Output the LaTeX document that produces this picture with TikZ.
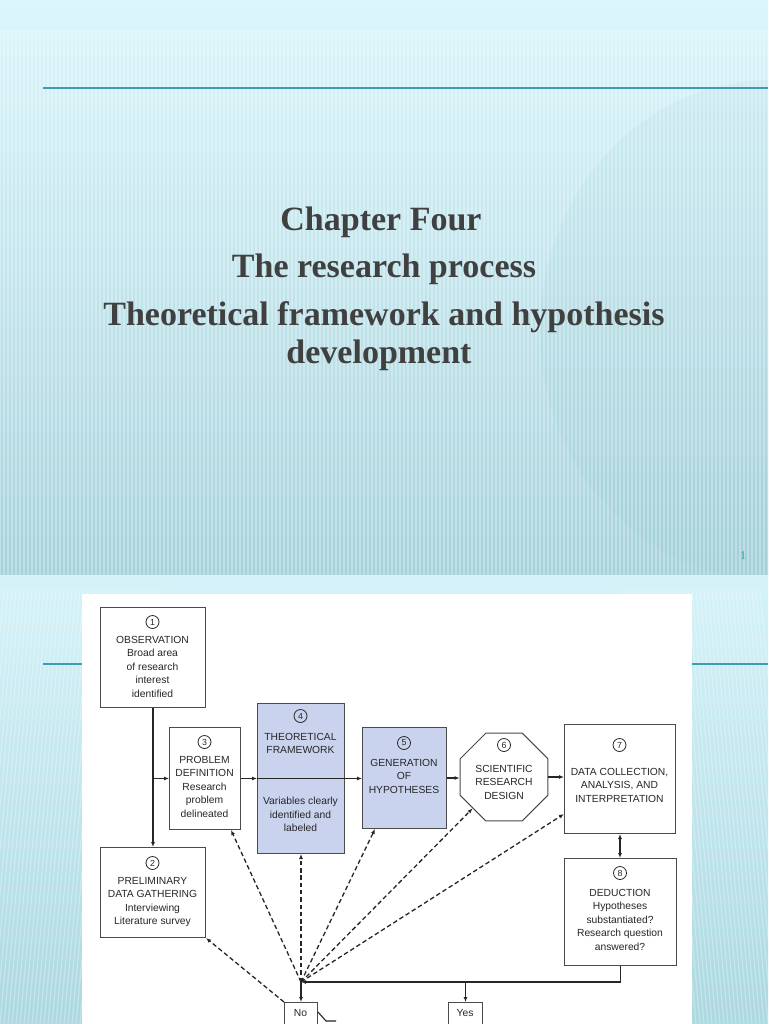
\documentclass[tikz,border=0pt]{standalone}
\usepackage{fontspec}
\setmainfont{Liberation Serif}
\newfontfamily\figfont{Liberation Sans}
\usetikzlibrary{arrows.meta,shapes.geometric,calc}
\definecolor{bgtop}{HTML}{DCF6FC}
\definecolor{bgmid}{HTML}{C6EAF1}
\definecolor{bgbot}{HTML}{A6D2DB}
\definecolor{bgshadow}{HTML}{7FB6C3}
\definecolor{stop}{HTML}{D5F3F9}
\definecolor{sbot}{HTML}{ACD8E1}
\definecolor{rulec}{HTML}{3D9CB4}
\definecolor{titlegray}{HTML}{404040}
\definecolor{boxblue}{HTML}{CAD3EE}
\definecolor{ink}{HTML}{262626}
\definecolor{edge}{HTML}{4A4A4A}
\tikzset{
  boxed/.style={draw=edge, line width=1pt, fill=white, inner sep=0, anchor=north west},
  bluebox/.style={boxed, fill=boxblue},
  ftext/.style={font=\figfont\fontsize{10.3}{13.5}\selectfont, text=ink, align=center, inner sep=0, anchor=north},
  cnum/.style={circle, draw=ink, line width=0.8pt, minimum size=13pt, inner sep=0, font=\figfont\fontsize{8.8}{9}\selectfont, text=ink},
  conn/.style={draw=ink, line width=1.2pt, -{Latex[length=5pt,width=4pt]}},
  dconn/.style={conn, dash pattern=on 4.5pt off 2.8pt, line width=1.3pt},
  titletext/.style={font=\bfseries\fontsize{34}{40}\selectfont, text=titlegray, anchor=base, inner sep=0},
  stripe/.style={white, opacity=0.3, line width=1.2pt}
}
\begin{document}
\begin{tikzpicture}[x=1pt,y=-1pt]
\useasboundingbox (0,0) rectangle (768,1024);
\clip (0,0) rectangle (768,1024);
% ---------- slide 1 background ----------
\shade[top color=bgtop, middle color=bgmid, bottom color=bgbot] (0,0) rectangle (768,575);
\begin{scope}
\clip (0,0) rectangle (768,575);
\fill[bgshadow, opacity=0.09] (770,330) ellipse [x radius=230, y radius=250];
\foreach \x in {0,4,...,768} \draw[stripe] (\x,30) -- (\x,575);
\end{scope}
\draw[rulec, line width=1.6pt] (43,88) -- (768,88);
\node[titletext] (h1) at (381,230) {Chapter Four};
\node[titletext] (h2) at (384,277) {The research process};
\node[titletext] (h3) at (384,325) {Theoretical framework and hypothesis};
\node[titletext] (h4) at (379,363) {development};
\node[font=\fontsize{12}{13}\selectfont, text=rulec, inner sep=0] (pg) at (743,556) {1};
% ---------- slide 2 background ----------
\shade[top color=stop, bottom color=sbot] (0,575) rectangle (768,1024);
\begin{scope}
\clip (0,590) rectangle (768,1024);
\foreach \x in {-80,-76,...,120} \draw[stripe] (\x+40,590) -- (\x,1024);
\foreach \x in {660,664,...,800} \draw[stripe] (\x-40,590) -- (\x,1024);
\end{scope}
\draw[rulec, line width=1.6pt] (43,664) -- (768,664);
\fill[white] (82,594) rectangle (692,1030);
% ---------- diagram ----------
\node[boxed, minimum width=105pt, minimum height=100pt] (b1) at (100,607) {};
\node[boxed, minimum width=105pt, minimum height=90pt] (b2) at (100,847) {};
\node[boxed, minimum width=71pt, minimum height=102pt] (b3) at (169,727) {};
\node[bluebox, minimum width=87pt, minimum height=150pt] (b4) at (257,703) {};
\node[bluebox, minimum width=84pt, minimum height=101pt] (b5) at (362,727) {};
\node[regular polygon, regular polygon sides=8, minimum size=95pt, draw=edge, line width=1pt, fill=white, inner sep=0] (b6) at (504,777) {};
\node[boxed, minimum width=111pt, minimum height=109pt] (b7) at (564,724) {};
\node[boxed, minimum width=112pt, minimum height=107pt] (b8) at (564,858) {};
\node[boxed, minimum width=33pt, minimum height=30pt] (no) at (284,1002) {};
\node[boxed, minimum width=34pt, minimum height=30pt] (yes) at (448,1002) {};
% circled numbers
\node[cnum] (c1) at (152.5,622) {1};
\node[cnum] (c2) at (152.5,863) {2};
\node[cnum] (c3) at (204.5,742) {3};
\node[cnum] (c4) at (300.5,716) {4};
\node[cnum] (c5) at (404,743) {5};
\node[cnum] (c6) at (504,745) {6};
\node[cnum] (c7) at (619.5,745) {7};
\node[cnum] (c8) at (620,873) {8};
% texts
\node[ftext] (t1) at (152.5,636) {OBSERVATION\\Broad area\\of research\\interest\\identified};
\node[ftext] (t2) at (152.5,877) {PRELIMINARY\\DATA GATHERING\\Interviewing\\Literature survey};
\node[ftext] (t3) at (204.5,756) {PROBLEM\\DEFINITION\\Research\\problem\\delineated};
\node[ftext] (t4a) at (300.5,733) {THEORETICAL\\FRAMEWORK};
\node[ftext] (t4b) at (300.5,797) {Variables clearly\\identified and\\labeled};
\node[ftext] (t5) at (404,759) {GENERATION\\OF\\HYPOTHESES};
\node[ftext] (t6) at (504,765) {SCIENTIFIC\\RESEARCH\\DESIGN};
\node[ftext] (t7) at (619.5,768) {DATA COLLECTION,\\ANALYSIS, AND\\INTERPRETATION};
\node[ftext] (t8) at (620,889) {DEDUCTION\\Hypotheses\\substantiated?\\Research question\\answered?};
\node[ftext] (tno) at (300.5,1009) {No};
\node[ftext] (tyes) at (465,1009) {Yes};
% connectors
\coordinate (br) at (b1.south |- b3.west);
\coordinate (hub) at (301,982);
\draw[conn] (b1.south) -- (b2.north);
\draw[conn] (br) -- (b3.west);
\draw[conn] (b3.east) -- (b4.west);
\draw[conn] (b4.west) -- (b4.west -| b5.west);
\draw[conn] (b5.east) -- (b5.east -| b6.west);
\draw[conn] (b6.east) -- (b6.east -| b7.west);
\draw[draw=ink, line width=1.2pt, {Latex[length=5pt,width=4pt]}-{Latex[length=5pt,width=4pt]}] (b7.south) -- (b7.south |- b8.north);
\draw[conn] (b8.south) |- (hub);
\draw[conn] (hub) -- (no.north);
\draw[conn] (yes.north |- hub) -- (yes.north);
\draw[draw=ink, line width=1.1pt] ($(no.north east)+(0,10)$) -- ++(8,9) -- ++(10,0);
% dashed feedback
\draw[dconn] (no.north west) -- (b2.south east);
\draw[dconn] (hub) -- ($(b3.south east)+(-10,0)$);
\draw[dconn] (hub) -- (b4.south);
\draw[dconn] (hub) -- ($(b5.south west)+(13,0)$);
\draw[dconn] (hub) -- (b6.-135);
\draw[dconn] (hub) -- ($(b7.south west)+(0,-20)$);
\end{tikzpicture}
\end{document}
